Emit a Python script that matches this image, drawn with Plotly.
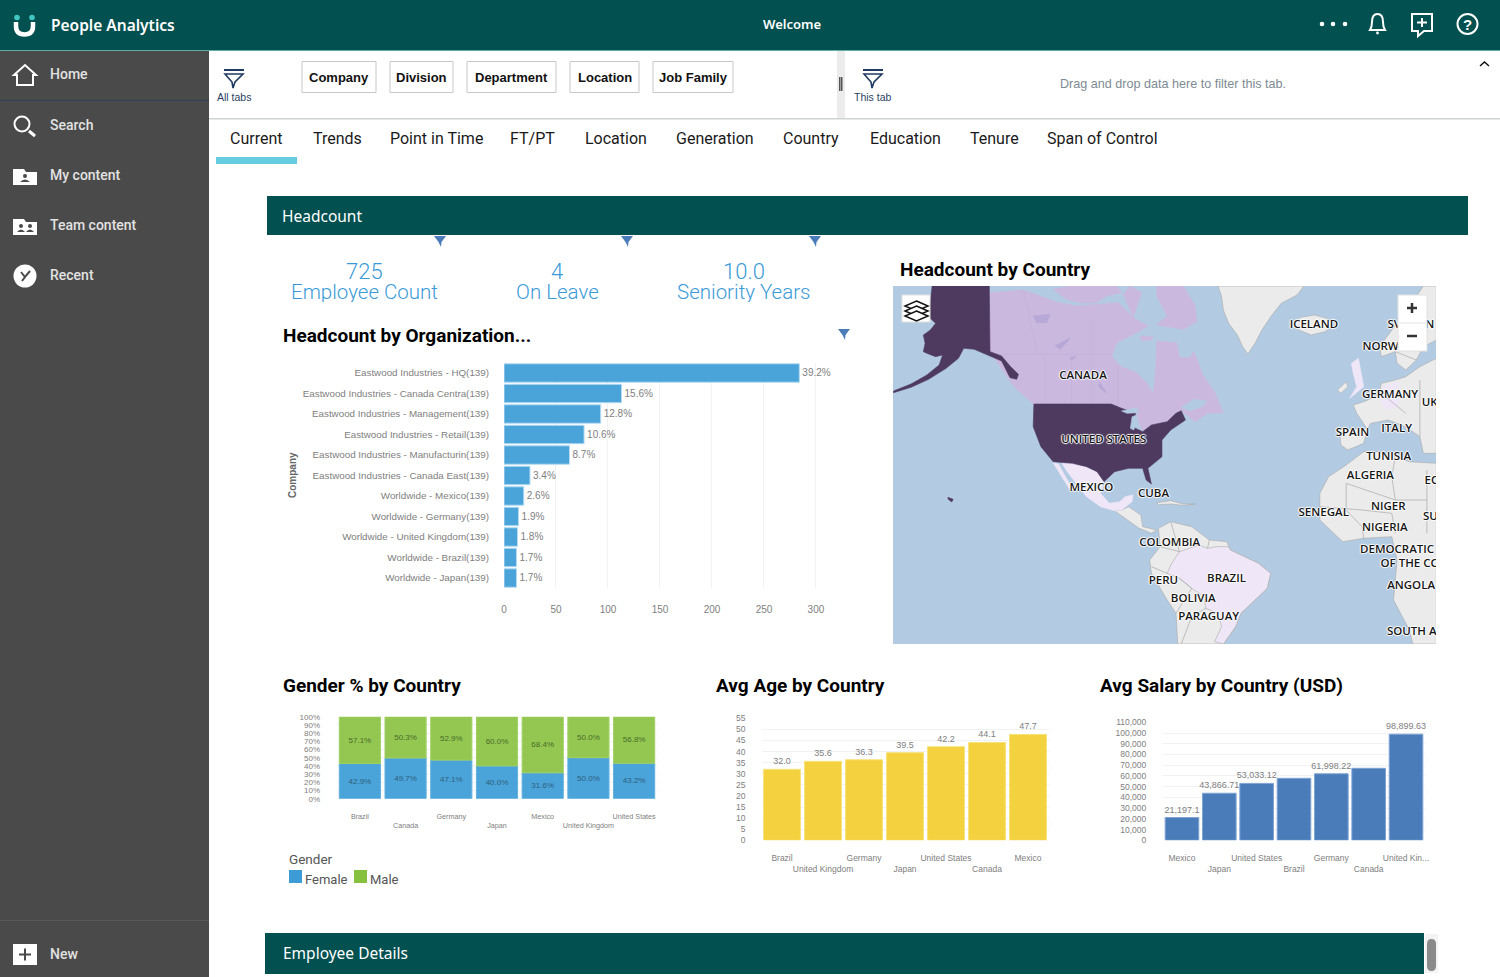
from plotly import graph_objs as go

# --- chart data ---
org_names = ["Eastwood Industries - HQ(139)", "Eastwood Industries - Canada Centra(139)",
             "Eastwood Industries - Management(139)", "Eastwood Industries - Retail(139)",
             "Eastwood Industries - Manufacturin(139)", "Eastwood Industries - Canada East(139)",
             "Worldwide - Mexico(139)", "Worldwide - Germany(139)", "Worldwide - United Kingdom(139)",
             "Worldwide - Brazil(139)", "Worldwide - Japan(139)"]
org_counts = [284, 113, 93, 77, 63, 25, 19, 14, 13, 12, 12]
org_labels = ["39.2%", "15.6%", "12.8%", "10.6%", "8.7%", "3.4%", "2.6%", "1.9%", "1.8%", "1.7%", "1.7%"]

gender_countries = ["Brazil", "Canada", "Germany", "Japan", "Mexico", "United Kingdom", "United States"]
female_pct = [42.9, 49.7, 47.1, 40.0, 31.6, 50.0, 43.2]
male_pct = [57.1, 50.3, 52.9, 60.0, 68.4, 50.0, 56.8]

age_countries = ["Brazil", "United Kingdom", "Germany", "Japan", "United States", "Canada", "Mexico"]
age_values = [32.0, 35.6, 36.3, 39.5, 42.2, 44.1, 47.7]

salary_countries = ["Mexico", "Japan", "United States", "Brazil", "Germany", "Canada", "United Kin..."]
salary_values = [21197.1, 43866.71, 53033.12, 57800, 61998.22, 67100, 98899.63]
salary_labels = ["21,197.1", "43,866.71", "53,033.12", "", "61,998.22", "", "98,899.63"]

# map outlines (map units)
greenland = [(935, 18), (1180, 18), (1160, 45), (1115, 70), (1085, 110), (1060, 150), (1040, 190), (1020, 222),
             (1005, 200), (990, 165), (965, 130), (950, 90), (945, 50)]
iceland = [(1150, 130), (1170, 112), (1210, 105), (1245, 115), (1265, 135), (1240, 155), (1200, 165), (1165, 150)]
canada = [(285, 38), (380, 30), (428, 48), (475, 66), (532, 78), (598, 73), (651, 68), (693, 113), (736, 138),
          (700, 160), (646, 188), (632, 228), (655, 258), (703, 278), (731, 308), (750, 340), (757, 268), (760, 183),
          (817, 188), (826, 233), (855, 233), (865, 213), (893, 288), (925, 335), (950, 398), (905, 400), (870, 425),
          (845, 405), (830, 390), (815, 400), (790, 425), (745, 435), (720, 455), (700, 400), (660, 385), (630, 372),
          (410, 372), (361, 328), (342, 303), (283, 212)]
arctic_west = [(465, 28), (513, 18), (646, 18), (660, 38), (617, 48), (589, 68), (541, 68), (503, 58)]
boothia = [(684, 18), (717, 38), (693, 113), (665, 43)]
baffin = [(760, 18), (836, 18), (870, 78), (875, 125), (836, 148), (760, 135), (790, 108), (760, 48)]
southampton = [(713, 168), (750, 170), (745, 180), (718, 182)]
alaska = [(120, 18), (283, 18), (285, 215), (318, 228), (342, 258), (366, 283), (361, 298), (342, 293), (318, 243),
          (280, 225), (240, 208), (210, 205), (195, 235), (160, 265), (110, 298), (60, 322), (10, 338), (10, 333),
          (60, 312), (105, 285), (140, 255), (150, 225), (130, 230), (110, 222), (95, 215), (100, 190), (95, 165),
          (115, 150), (130, 130), (110, 110), (115, 70)]
usa = [(410, 372), (630, 372), (660, 385), (700, 400), (690, 440), (720, 455), (745, 435), (790, 425), (815, 400),
       (830, 392), (842, 420), (800, 450), (775, 480), (775, 530), (735, 565), (745, 612), (730, 600), (720, 565),
       (680, 565), (640, 575), (610, 605), (590, 575), (560, 560), (520, 550), (465, 545), (430, 500), (408, 440)]
hawaii = [(165, 652), (180, 658), (176, 666), (166, 658)]
mexico = [(490, 550), (520, 550), (560, 560), (590, 575), (610, 605), (600, 640), (625, 670), (655, 665), (670, 650),
          (692, 645), (690, 665), (660, 690), (640, 692), (600, 680), (560, 650), (530, 610), (505, 575)]
baja = [(465, 548), (480, 552), (500, 590), (520, 625), (510, 625), (490, 590)]
central_america = [(640, 692), (660, 690), (680, 680), (715, 705), (720, 740), (760, 750), (745, 760), (710, 745),
                   (670, 715)]
caribbean = [(760, 668), (800, 662), (835, 672), (870, 672), (835, 676), (800, 672), (765, 674)]
south_america = [(765, 745), (800, 725), (860, 740), (910, 780), (960, 785), (970, 810), (1050, 850), (1085, 880),
                 (1075, 925), (1040, 960), (1000, 1000), (980, 1050), (950, 1092), (820, 1092), (815, 1000),
                 (790, 960), (745, 880), (740, 840), (770, 800)]
brazil = [(825, 815), (880, 795), (905, 805), (930, 800), (965, 800), (970, 810), (1050, 850), (1085, 880),
          (1075, 925), (1040, 960), (1000, 1000), (985, 1040), (950, 1092), (925, 1085), (945, 1040), (935, 1000),
          (900, 985), (895, 950), (860, 925), (825, 895), (790, 880), (800, 855)]
africa = [(1225, 640), (1225, 720), (1290, 785), (1350, 775), (1430, 770), (1445, 840), (1435, 960), (1480, 1050),
          (1490, 1092), (1557, 1092), (1557, 550), (1480, 545), (1440, 530), (1400, 515), (1350, 515), (1300, 555),
          (1250, 590)]
europe = [(1320, 375), (1350, 365), (1395, 345), (1400, 310), (1440, 300), (1470, 290), (1510, 260), (1557, 235),
          (1557, 520), (1520, 520), (1510, 470), (1470, 440), (1420, 420), (1370, 430), (1360, 447), (1330, 400)]
iberia = [(1280, 447), (1360, 447), (1350, 490), (1305, 510), (1285, 495)]
scandinavia = [(1395, 200), (1440, 135), (1480, 80), (1520, 18), (1557, 18), (1557, 180), (1520, 200), (1500, 240),
               (1470, 270), (1445, 250), (1440, 215), (1400, 230)]
britain = [(1315, 250), (1335, 235), (1350, 320), (1310, 355), (1330, 320), (1320, 280)]
ireland = [(1275, 330), (1300, 305), (1305, 320), (1285, 340)]
germany = [(1405, 320), (1445, 305), (1455, 340), (1445, 385), (1410, 385), (1395, 350)]
lake_michigan = [(690, 410), (705, 405), (695, 450), (685, 445)]
lake_superior = [(660, 393), (703, 383), (708, 398), (675, 400)]
st_lawrence = [(831, 383), (865, 358), (902, 363), (893, 378), (855, 393)]
bear_lake = [(408, 108), (456, 103), (447, 128), (418, 128)]
slave_lake = [(470, 198), (513, 173), (503, 188), (485, 208)]
athabasca_lake = [(513, 233), (530, 228), (525, 236), (515, 240)]
winnipeg_lake = [(598, 308), (617, 338), (608, 333), (594, 318)]
canada_lines = [[(285, 223), (632, 223)], [(442, 223), (442, 372)], [(518, 223), (518, 372)],
                [(575, 120), (575, 372)], [(380, 30), (420, 223)], [(650, 258), (650, 385)]]
border_lines = [[(1300, 610), (1300, 690), (1345, 740), (1350, 775)], [(1300, 610), (1440, 660), (1530, 660)],
                [(1440, 530), (1430, 590), (1440, 660)], [(1345, 690), (1430, 700), (1440, 760)],
                [(1530, 570), (1530, 760)], [(1225, 680), (1345, 690)], [(770, 800), (825, 815)],
                [(745, 860), (790, 880)], [(825, 895), (860, 925), (815, 1000)], [(900, 985), (860, 1010), (830, 1092)],
                [(800, 725), (825, 815)], [(910, 780), (905, 805)], [(1400, 340), (1470, 400)],
                [(1510, 300), (1510, 470)], [(1440, 215), (1500, 240)]]

map_label_text = ["CANADA", "UNITED STATES", "MEXICO", "CUBA", "COLOMBIA", "PERU", "BRAZIL", "BOLIVIA", "PARAGUAY",
                  "ICELAND", "SV", "N", "NORW", "GERMANY", "UK", "SPAIN", "ITALY", "TUNISIA", "ALGERIA", "EC",
                  "NIGER", "SU", "SENEGAL", "NIGERIA", "DEMOCRATIC", "OF THE CO", "ANGOLA", "SOUTH A"]
map_label_x = [550, 609, 574, 751, 797, 779, 959, 864, 908, 1208, 1437, 1538, 1398, 1425, 1538, 1318, 1444, 1421, 1369,
               1543, 1420, 1540, 1236, 1410, 1445, 1482, 1485, 1487]
map_label_y = [287, 480, 624, 642, 790, 902, 897, 957, 1011, 134, 135, 135, 201, 346, 369, 460, 447, 532, 588, 602,
               680, 710, 698, 745, 810, 851, 917, 1056]

tab_names = ["Current", "Trends", "Point in Time", "FT/PT", "Location", "Generation", "Country", "Education", "Tenure",
             "Span of Control"]
tab_x = [230, 313, 390, 510, 585, 676, 783, 870, 970, 1047]
filter_names = ["Company", "Division", "Department", "Location", "Job Family"]
filter_left = [302, 390, 467, 570, 653]
filter_right = [376, 453, 556, 639, 733]
nav_names = ["Home", "Search", "My content", "Team content", "Recent"]
nav_y = [74, 125, 175, 225, 275]
kpi_values = ["725", "4", "10.0"]
kpi_names = ["Employee Count", "On Leave", "Seniority Years"]
kpi_x = [364, 557, 744]

# --- colours and fonts ---
TEAL = "#02504f"
SIDEBAR = "#4a4a4a"
BLUE = "#4aa3d9"
GREEN = "#93c751"
YELLOW = "#f4d13f"
STEEL = "#4b7cba"
KPI_BLUE = "#3a9ad9"
WATER = "#b3cbe2"
LAND = "#ebebeb"
LAVENDER = "#cbb8de"
GRID = "#f1f2f4"
TICK = "#808080"
SANS = "Liberation Sans"
PLEX = "Noto Sans"
TITLE = "Roboto"

# sizes of the page in pixels, everything else hangs off these
W, H = 1500, 977


def dom_x(a, b):
    return [a / W, b / W]


def dom_y(top, bottom):
    return [1 - bottom / H, 1 - top / H]


def stagger(names):
    # every second label goes one row down
    return [n if i % 2 == 0 else "<br>" + n for i, n in enumerate(names)]


fig = go.Figure()

# Headcount by organization
fig.add_trace(go.Bar(y=org_names, x=org_counts, orientation="h", text=org_labels, textposition="outside",
                     cliponaxis=False, constraintext="none", textfont=dict(size=10, color=TICK, family=SANS),
                     marker=dict(color=BLUE, line=dict(color="#b5dcf3", width=1)), xaxis="x", yaxis="y"))

# Gender % by country
fig.add_trace(go.Bar(x=gender_countries, y=female_pct, name="Female", text=[f"{v:.1f}%" for v in female_pct],
                     textposition="inside", insidetextanchor="middle", textangle=0, constraintext="none",
                     textfont=dict(size=8, color="#2f5f7c", family=SANS),
                     marker=dict(color=BLUE, line=dict(color="#5eb0e0", width=1)), xaxis="x2", yaxis="y2"))
fig.add_trace(go.Bar(x=gender_countries, y=male_pct, name="Male", text=[f"{v:.1f}%" for v in male_pct],
                     textposition="inside", insidetextanchor="middle", textangle=0, constraintext="none",
                     textfont=dict(size=8, color="#4a6b2a", family=SANS),
                     marker=dict(color=GREEN, line=dict(color="#a0d060", width=1)), xaxis="x2", yaxis="y2"))

# Avg age by country
fig.add_trace(go.Bar(x=age_countries, y=age_values, text=[f"{v:.1f}" for v in age_values], textposition="outside",
                     cliponaxis=False, constraintext="none", textfont=dict(size=9, color=TICK, family=SANS),
                     marker=dict(color=YELLOW, line=dict(color="#f8e27a", width=1)), xaxis="x3", yaxis="y3"))

# Avg salary by country
fig.add_trace(go.Bar(x=salary_countries, y=salary_values, text=salary_labels, textposition="outside",
                     cliponaxis=False, constraintext="none", textfont=dict(size=9, color=TICK, family=SANS),
                     marker=dict(color=STEEL, line=dict(color="#7fa3d2", width=1)), xaxis="x4", yaxis="y4"))


# Headcount by country, the base map is filled polygons since topojson needs a network
def add_region(points, fill, line="#c9c9c9", width=0.6):
    xs = [p[0] for p in points] + [points[0][0]]
    ys = [p[1] for p in points] + [points[0][1]]
    fig.add_trace(go.Scatter(x=xs, y=ys, mode="lines", fill="toself", fillcolor=fill, hoverinfo="skip",
                             line=dict(color=line, width=width), xaxis="x5", yaxis="y5"))


def add_lines(segments, color, width):
    bx, by = [], []
    for seg in segments:
        bx += [p[0] for p in seg] + [None]
        by += [p[1] for p in seg] + [None]
    fig.add_trace(go.Scatter(x=bx, y=by, mode="lines", line=dict(color=color, width=width), hoverinfo="skip",
                             xaxis="x5", yaxis="y5"))


for region in [greenland, iceland, africa, europe, iberia, scandinavia, central_america, caribbean, south_america,
               ireland]:
    add_region(region, LAND, "#a9a9a9", 0.6)
for region in [canada, arctic_west, boothia, baffin, southampton]:
    add_region(region, LAVENDER, LAVENDER)
for lake in [bear_lake, slave_lake, athabasca_lake, winnipeg_lake]:
    add_region(lake, "#b7a8d8", "#b7a8d8")
add_lines(canada_lines, "#c2aed8", 0.6)
add_region(brazil, "#efe6f8", "#a9a9a9")
add_region(mexico, "#efe6f8", "#efe6f8")
add_region(baja, "#efe6f8", "#efe6f8")
add_region(britain, "#efe6f8", "#efe6f8")
add_region(germany, "#efe6f8", "#efe6f8")
add_region(alaska, "#4e3a5f", "#4e3a5f")
add_region(usa, "#4e3a5f", "#4e3a5f")
add_region(hawaii, "#4e3a5f", "#4e3a5f")
for water in [lake_michigan, lake_superior, st_lawrence]:
    add_region(water, WATER, WATER)
add_lines(border_lines, "#a9a9a9", 0.7)

fig.add_trace(go.Scatter(x=map_label_x, y=map_label_y, mode="text", text=map_label_text, hoverinfo="skip",
                         textfont=dict(family="Open Sans", size=11.5, weight=600, color="#151515",
                                       shadow="-1px 0 1px #ffffff, 1px 0 1px #ffffff, 0 -1px 1px #ffffff, "
                                              "0 1px 1px #ffffff"),
                         xaxis="x5", yaxis="y5"))

# invisible trace so the page axes exist, all chrome is drawn on them in page pixels
fig.add_trace(go.Scatter(x=[0], y=[0], mode="markers", marker=dict(opacity=0), hoverinfo="skip", xaxis="x6",
                         yaxis="y6"))

shapes = []
annotations = []


def rect(x0, y0, x1, y1, fill, line=None, width=1):
    shapes.append(dict(type="rect", xref="x6", yref="y6", x0=x0, y0=y0, x1=x1, y1=y1, fillcolor=fill,
                       line=dict(color=line or "rgba(0,0,0,0)", width=width if line else 0)))


def path(d, fill=None, line=None, width=1):
    shapes.append(dict(type="path", xref="x6", yref="y6", path=d, fillcolor=fill or "rgba(0,0,0,0)",
                       line=dict(color=line or "rgba(0,0,0,0)", width=width if line else 0)))


def circle(cx, cy, r, fill=None, line=None, width=1):
    shapes.append(dict(type="circle", xref="x6", yref="y6", x0=cx - r, y0=cy - r, x1=cx + r, y1=cy + r,
                       fillcolor=fill or "rgba(0,0,0,0)",
                       line=dict(color=line or "rgba(0,0,0,0)", width=width if line else 0)))


def label(x, y, text, size, color="#000000", family=SANS, anchor="left", weight=None, height=None):
    # left anchored annotations sit 2px in because of their padding
    annotations.append(dict(xref="x6", yref="y6", x=x, y=y, text=text, showarrow=False, xanchor=anchor,
                            xshift=-2 if anchor == "left" else 0, yanchor="middle", height=height,
                            font=dict(size=size, color=color, family=family, weight=weight)))


def funnel(cx, top, color):
    # filter icon with the bar on top
    path(f"M{cx - 10},{top} L{cx + 10},{top}", line=color, width=2)
    path(f"M{cx - 9},{top + 4} L{cx + 9},{top + 4} L{cx + 1},{top + 12} "
         f"L{cx - 1},{top + 18} L{cx - 2},{top + 12} Z", line=color, width=1.6)


def small_funnel(cx, cy):
    path(f"M{cx - 6},{cy - 5} L{cx + 6},{cy - 5} L{cx + 1.5},{cy + 1} L{cx + 1},{cy + 6} L{cx - 1.5},{cy + 1} Z",
         fill=STEEL)


# top bar and sidebar
rect(0, 0, W, 50, TEAL)
rect(0, 50, W, 51, "#5fae9f")
rect(0, 51, 209, H, SIDEBAR)
rect(0, 100, 209, 101, "#2e3f5c")
rect(0, 920, 209, 921, "#5a5a5a")
circle(17, 17.5, 2.8, fill="#3fc7c2")
circle(32, 17.5, 2.8, fill="#3fc7c2")
path("M16,22 L16,26 Q16,34.5 24.5,34.5 Q33,34.5 33,26 L33,22", line="#ffffff", width=4.5)
label(51, 25, "People Analytics", 15.5, "#ffffff", PLEX, weight=600)
label(792, 24, "Welcome", 13, "#ffffff", PLEX, anchor="center", weight=600)

for cx in [1322, 1333, 1345]:
    circle(cx, 24, 2.3, fill="#ffffff")
path("M1370,30 Q1372,27 1372,22 Q1372,14 1377.5,14 Q1383,14 1383,22 Q1383,27 1385,30 Z", line="#ffffff", width=2)
circle(1377.5, 33, 1.4, fill="#ffffff")
path("M1412,14 L1432,14 L1432,31 L1424,31 L1418,36 L1418,31 L1412,31 Z", line="#ffffff", width=2)
path("M1417,22.5 L1427,22.5 M1422,18 L1422,27", line="#ffffff", width=2)
circle(1467.5, 24, 10, line="#ffffff", width=2)
label(1467.5, 24, "?", 15, "#ffffff", SANS, anchor="center", weight=700)
path("M1480,66 L1484.5,62 L1489,66", line="#111111", width=1.5)

# sidebar items
for name, y in zip(nav_names, nav_y):
    label(50, y, name, 14, "#e2e2e2", TITLE, weight=500)
path("M14,75 L25,65 L36,75 L33,75 L33,85 L17,85 L17,75 Z", line="#ffffff", width=2)
circle(22, 124, 7.5, line="#ffffff", width=2)
path("M29,131 L35,136", line="#ffffff", width=3)
path("M13,169 L24,169 L26,172 L37,172 L37,185 L13,185 Z", fill="#ffffff")
circle(25, 176, 2, fill=SIDEBAR)
path("M20,182 Q25,177 30,182 Z", fill=SIDEBAR)
path("M13,219 L24,219 L26,222 L37,222 L37,235 L13,235 Z", fill="#ffffff")
for cx in [21, 30]:
    circle(cx, 226, 2, fill=SIDEBAR)
    path(f"M{cx - 4},232 Q{cx},227 {cx + 4},232 Z", fill=SIDEBAR)
circle(25, 276, 11.5, fill="#ffffff")
path("M21,272 L25,277 L30,271", line=SIDEBAR, width=2)
path("M25,277 L22,281", line=SIDEBAR, width=2)
rect(13, 944, 37, 965, "#ffffff")
path("M19,954.5 L31,954.5 M25,948.5 L25,960.5", line=SIDEBAR, width=2)
label(50, 954, "New", 14, "#e2e2e2", TITLE, weight=500)

# filter row
rect(209, 118, W, 119.5, "#cfd3d3")
funnel(234, 70, "#1f3a63")
label(234, 97, "All tabs", 10.5, "#2a3f63", SANS, anchor="center")
funnel(873, 70, "#1f3a63")
label(873, 97, "This tab", 10.5, "#2a3f63", SANS, anchor="center")
rect(837, 51, 845, 118, "#ececec")
rect(839, 77, 840.5, 91, "#555555")
rect(841, 77, 842.5, 91, "#555555")
label(1173, 84, "Drag and drop data here to filter this tab.", 12.6, "#7d8a92", SANS, anchor="center")
for name, x0, x1 in zip(filter_names, filter_left, filter_right):
    rect(x0, 61.5, x1, 92.5, "#ffffff", "#c8c8c8", 1)
    label((x0 + x1) / 2, 77, f"<b>{name}</b>", 13, "#111111", SANS, anchor="center")

# tabs
for name, x in zip(tab_names, tab_x):
    label(x, 138, name, 16, "#1a1a1a", TITLE)
rect(216, 157, 297, 164, "#66cce0")

# section bands
rect(267, 196, 1468, 235, TEAL)
label(282, 216, "Headcount", 15.5, "#ffffff", PLEX)
rect(265, 933, 1424, 974, TEAL)
label(283, 953, "Employee Details", 15.5, "#ffffff", PLEX)
rect(1425, 934, 1438, 973, "#f3f3f3")
shapes.append(dict(type="path", xref="x6", yref="y6", fillcolor="#8a8a8a", line=dict(width=0),
                   path="M1427,944 Q1427,939 1431.5,939 Q1436,939 1436,944 L1436,966 Q1436,971 1431.5,971 "
                        "Q1427,971 1427,966 Z"))

# KPIs
for v, n, x in zip(kpi_values, kpi_names, kpi_x):
    label(x, 271, v, 22, KPI_BLUE, TITLE, anchor="center", weight=300, height=20)
    label(x, 292, n, 20.5, KPI_BLUE, TITLE, anchor="center", weight=300, height=20)
for cx in [440, 627, 815]:
    small_funnel(cx, 241)
small_funnel(844, 334)

# titles
label(283, 335, "<b>Headcount by Organization...</b>", 19, "#000000", TITLE)
label(900, 269, "<b>Headcount by Country</b>", 19, "#000000", TITLE)
label(283, 685, "<b>Gender % by Country</b>", 19, "#000000", TITLE)
label(716, 685, "<b>Avg Age by Country</b>", 19, "#000000", TITLE)
label(1100, 685, "<b>Avg Salary by Country (USD)</b>", 19, "#000000", TITLE)

# gender legend
label(289, 859, "Gender", 13.5, "#555555", TITLE)
rect(289, 870, 302, 883, "#3d9bd6")
label(305, 879, "Female", 13, "#555555", TITLE)
rect(354, 870, 367, 883, "#86c03f")
label(370, 879, "Male", 13, "#555555", TITLE)

# map controls, these sit over the map
rect(902, 295, 930, 322, "#ffffff", "#e0e0e0", 1)
for dy in [0, 5, 10]:
    path(f"M916.5,{301 + dy} L928,{306 + dy} L916.5,{311 + dy} L905,{306 + dy} Z", fill="#ffffff", line="#111111",
         width=1.5)
rect(1398, 295, 1427, 351, "#ffffff", "#e0e0e0", 1)
rect(1399, 322.5, 1426, 323.5, "#e4e4e4")
path("M1407,308 L1417,308 M1412,303 L1412,313", line="#333333", width=2.5)
path("M1407,336 L1417,336", line="#333333", width=2.5)

hidden = dict(visible=False, fixedrange=True)
tick_font = dict(size=9.8, color=TICK, family=SANS)

fig.update_layout(
    template="none", width=W, height=H, margin=dict(l=0, r=0, t=0, b=0), showlegend=False,
    plot_bgcolor="rgba(0,0,0,0)", paper_bgcolor="#ffffff", barmode="relative", bargap=0.1, shapes=shapes,
    annotations=annotations, font=dict(family=SANS),
    # organization bars: 0 at x=504, 300 at x=816
    xaxis=dict(domain=dom_x(504, 830), range=[0, 313.5], tickmode="array", tickvals=[0, 50, 100, 150, 200, 250, 300],
               gridcolor=GRID, zeroline=False, tickfont=dict(size=10, color=TICK, family=SANS), ticklabelstandoff=14,
               anchor="y", showline=False),
    yaxis=dict(domain=dom_y(362.75, 588.25), autorange="reversed", type="category", categoryorder="array",
               categoryarray=org_names, tickfont=tick_font, ticklabelstandoff=14, showgrid=False, anchor="x"),
    xaxis2=dict(domain=dom_x(337, 657), type="category", categoryorder="array", categoryarray=gender_countries,
                tickmode="array", tickvals=gender_countries, ticktext=stagger(gender_countries), tickangle=0,
                tickfont=dict(size=7.2, color=TICK, family=SANS), ticklabelstandoff=12, showgrid=False, anchor="y2"),
    yaxis2=dict(domain=dom_y(716.7, 798.7), range=[0, 100], tickmode="array", tickvals=list(range(0, 101, 10)),
                ticktext=[f"{v}%" for v in range(0, 101, 10)], tickfont=dict(size=8, color=TICK, family=SANS),
                gridcolor=GRID, zeroline=False, ticklabelstandoff=16, anchor="x2"),
    xaxis3=dict(domain=dom_x(761.5, 1048.5), type="category", categoryorder="array", categoryarray=age_countries,
                tickmode="array", tickvals=age_countries, ticktext=stagger(age_countries), tickangle=0,
                tickfont=dict(size=8.5, color=TICK, family=SANS), ticklabelstandoff=11, showgrid=False, anchor="y3"),
    yaxis3=dict(domain=dom_y(718.3, 840.3), range=[0, 55], tickmode="array", tickvals=list(range(0, 56, 5)),
                tickfont=dict(size=8.5, color=TICK, family=SANS), gridcolor=GRID, zeroline=False, ticklabelstandoff=15,
                anchor="x3"),
    xaxis4=dict(domain=dom_x(1163.3, 1424.7), type="category", categoryorder="array", categoryarray=salary_countries,
                tickmode="array", tickvals=salary_countries, ticktext=stagger(salary_countries), tickangle=0,
                tickfont=dict(size=8.5, color=TICK, family=SANS), ticklabelstandoff=11, showgrid=False, anchor="y4"),
    yaxis4=dict(domain=dom_y(722.3, 840.3), range=[0, 110000], tickmode="array",
                tickvals=list(range(0, 110001, 10000)), tickformat=",", tickfont=dict(size=8.5, color=TICK, family=SANS),
                gridcolor=GRID, zeroline=False, ticklabelstandoff=16, anchor="x4"),
    xaxis5=dict(domain=dom_x(893, 1436), range=[8.55, 1556], anchor="y5", **hidden),
    yaxis5=dict(domain=dom_y(286, 644), range=[1092, 18], anchor="x5", **hidden),
    xaxis6=dict(domain=[0, 1], range=[0, W], anchor="y6", **hidden),
    yaxis6=dict(domain=[0, 1], range=[H, 0], anchor="x6", **hidden),
)
# water behind the map
fig.add_shape(type="rect", xref="x5", yref="y5", x0=8.55, x1=1556, y0=18, y1=1092, fillcolor=WATER,
              line=dict(width=0), layer="below")
label_company = dict(xref="x6", yref="y6", x=292, y=475, text="<b>Company</b>", textangle=-90, showarrow=False,
                     font=dict(size=10, color="#666666", family=SANS))
fig.add_annotation(**label_company)

fig.write_html("out.html", config=dict(displayModeBar=False), post_script="document.body.style.margin='0';")
